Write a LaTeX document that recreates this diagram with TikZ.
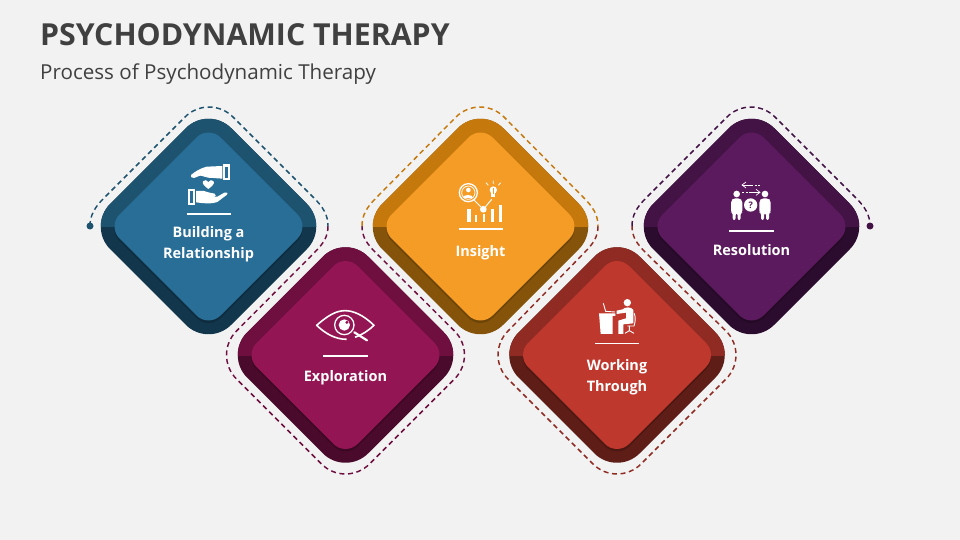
\documentclass[tikz,border=0pt]{standalone}
\usepackage{fontspec}
\setmainfont{Open Sans}
\definecolor{bgc}{HTML}{F2F2F2}
\definecolor{ink}{HTML}{404040}
\definecolor{bluM}{HTML}{286E97}\definecolor{bluT}{HTML}{1E5370}\definecolor{bluB}{HTML}{12364B}
\definecolor{magM}{HTML}{931554}\definecolor{magT}{HTML}{6F0F40}\definecolor{magB}{HTML}{4A0A2B}
\definecolor{oraM}{HTML}{F59C27}\definecolor{oraT}{HTML}{C5780B}\definecolor{oraB}{HTML}{85540A}
\definecolor{redM}{HTML}{BE382D}\definecolor{redT}{HTML}{8F2B22}\definecolor{redB}{HTML}{5E1D17}
\definecolor{purM}{HTML}{5B1A5D}\definecolor{purT}{HTML}{431345}\definecolor{purB}{HTML}{2C0C2E}
\tikzset{
  wave/.style={line width=1.45pt,dash pattern=on 5pt off 3.6pt},
  lbl/.style={text=white,font=\bfseries\fontsize{14.5}{21}\selectfont,align=center,inner sep=0pt,anchor=center},
  rulebar/.style={draw=white,line width=1.6pt},
  ico/.style={fill=white,draw=none},
  icl/.style={draw=white,fill=none},
  enddot/.style={circle,inner sep=0pt,minimum size=7pt}
}
\newcommand{\rdiam}[1]{(-#1,0)--(0,-#1)--(#1,0)--(0,#1)--cycle}
\newcommand{\card}[5]{%
 \begin{scope}[shift={(#1,#2)}]
  \fill[#5,rounded corners=32pt] \rdiam{121};
  \begin{scope}
   \clip (-130,-130) rectangle (130,0);
   \fill[#4,rounded corners=32pt] \rdiam{121};
  \end{scope}
  \fill[black,opacity=.18,rounded corners=17pt,shift={(0,2.5)}] \rdiam{101};
  \fill[#3,rounded corners=17pt] \rdiam{101};
 \end{scope}}
% rounded apex of the dashed lines: apex (x,y), directions towards the incoming and the outgoing point
\newcommand{\crn}[6]{-- (#1+24*#3,#2+24*#4) .. controls (#1+10.7*#3,#2+10.7*#4) and (#1+10.7*#5,#2+10.7*#6) .. (#1+24*#5,#2+24*#6)}
\begin{document}
\begin{tikzpicture}[x=1pt,y=-1pt]
\useasboundingbox (0,0) rectangle (960,540);
\fill[bgc] (0,0) rectangle (960,540);
\node[anchor=base west,inner sep=0pt,text=ink] (title) at (40,45.5) {\fontsize{30.3}{36}\selectfont\bfseries PSYCHODYNAMIC THERAPY};
\node[anchor=base west,inner sep=0pt,text=ink] (sub) at (40,80) {\fontsize{20.6}{26}\selectfont Process of Psychodynamic Therapy};

% dashed waves
\coordinate (w0) at (90,226);\coordinate (w1) at (328,226);\coordinate (w2) at (362,226);
\coordinate (w3) at (598,226);\coordinate (w4) at (632,226);\coordinate (w5) at (870,226);
\draw[wave,bluT] (w0) .. controls (90,215) and (95,207) .. (104,198) \crn{209}{93}{-1}{1}{1}{1} -- (314,198) .. controls (323,207) and (328,215) .. (w1);
\draw[wave,magT] (w1) .. controls (328,237) and (323,244) .. (314,253) \crn{212.5}{355}{1}{-1}{1}{1} \crn{345.5}{488}{-1}{-1}{1}{-1} \crn{478.5}{355}{-1}{1}{-1}{-1} -- (376,253) .. controls (367,244) and (362,237) .. (w2);
\draw[wave,oraT] (w2) .. controls (362,215) and (367,207) .. (376,198) \crn{480}{93}{-1}{1}{1}{1} -- (584,198) .. controls (593,207) and (598,215) .. (w3);
\draw[wave,redT] (w3) .. controls (598,237) and (593,244) .. (584,253) \crn{484}{355}{1}{-1}{1}{1} \crn{617}{488}{-1}{-1}{1}{-1} \crn{750}{355}{-1}{1}{-1}{-1} -- (646,253) .. controls (637,244) and (632,237) .. (w4);
\draw[wave,purT] (w4) .. controls (632,215) and (637,207) .. (646,198) \crn{751}{93}{-1}{1}{1}{1} -- (856,198) .. controls (865,207) and (870,215) .. (w5);
\node[enddot,fill=bluT] (d0) at (w0) {};
\node[enddot,fill=purT] (d5) at (w5) {};

% cards
\card{208.5}{226.5}{bluM}{bluT}{bluB}
\card{345.5}{355}{magM}{magT}{magB}
\card{480.5}{226.5}{oraM}{oraT}{oraB}
\card{617}{355}{redM}{redT}{redB}
\card{751.5}{226.5}{purM}{purT}{purB}

% rules
\draw[rulebar] (186.7,213.7) -- (230.7,213.7);
\draw[rulebar] (323.3,355.7) -- (367.7,355.7);
\draw[rulebar] (458.5,229) -- (502.5,229);
\draw[rulebar] (594.8,343.5) -- (639,343.5);
\draw[rulebar] (729.3,230.7) -- (773.5,230.7);

% labels
\node[lbl] (a) at (208.5,244) {Building a\\Relationship};
\node[lbl] (b) at (345.5,378) {Exploration};
\node[lbl] (c) at (480.5,253) {Insight};
\node[lbl] (e) at (617,377) {Working\\Through};
\node[lbl] (f) at (751.5,250) {Resolution};

% icon: hands and heart
\begin{scope}[shift={(180,155)},x=.3333pt,y=-.3333pt]
 \fill[ico] (33,60) .. controls (45,50) and (60,40) .. (80,35) -- (127,33) -- (127,71) -- (100,69) .. controls (80,70) and (70,62) .. (60,62) -- (42,69) .. controls (35,69) and (30,65) .. (33,60) -- cycle;
 \fill[ico] (130,28) rectangle (150,75);
 \fill[bluM] (136,35) rectangle (143,68);
 \fill[ico] (85,102) .. controls (75,94) and (65,87) .. (69,79) .. controls (73,73) and (82,75) .. (85,81) .. controls (88,75) and (97,73) .. (101,79) .. controls (105,87) and (95,94) .. (85,102) -- cycle;
 \fill[ico] (48,108) -- (72,108) .. controls (82,112) and (90,113) .. (104,116) .. controls (110,120) and (108,125) .. (100,125) -- (112,125) -- (133,113) .. controls (140,110) and (146,114) .. (140,120) -- (112,141) .. controls (95,148) and (70,145) .. (48,142) -- cycle;
 \fill[ico] (25,102) rectangle (45,150);
 \fill[bluM] (31,109) rectangle (38,143);
\end{scope}

% icon: eye and magnifier
\begin{scope}[shift={(225,240)},x=.3333pt,y=-.3333pt]
 \draw[icl,line width=1.6pt,line join=round] (390,292) .. controls (412,284) and (430,272) .. (447,256) .. controls (415,225) and (385,212) .. (360,212) .. controls (335,212) and (310,225) .. (275,256) .. controls (300,280) and (330,298) .. (365,298);
 \draw[icl,line width=1.3pt] (358,255) circle (29);
 \fill[ico] (358,255) circle (17);
 \fill[magM] (366,247) circle (5);
 \draw[icl,line width=2.2pt,line cap=round] (388,277) -- (426,301);
\end{scope}

% icon: insight
\begin{scope}[shift={(440,170)},x=.3333pt,y=-.3333pt]
 \draw[icl,line width=1.3pt] (85,68) circle (27);
 \draw[icl,line width=.8pt] (85,68) circle (20);
 \fill[ico] (85,60) circle (7);
 \fill[ico] (70,84) .. controls (70,72) and (100,72) .. (100,84) -- cycle;
 \fill[ico] (82,118) rectangle (92,156);
 \fill[ico] (104,134) rectangle (111,156);
 \fill[ico] (129,132) rectangle (136,156);
 \fill[ico] (154,116) rectangle (161,156);
 \fill[ico] (178,104) rectangle (185,156);
 \fill[ico] (130,118) circle (10);
 \draw[icl,line width=1pt] (100,88) -- (130,118) -- (155,88);
 \fill[ico] (160,60) circle (11);
 \fill[ico] (154,68) rectangle (166,80);
 \fill[oraM] (158,55) rectangle (162,72);
 \draw[icl,line width=.8pt] (160,32) -- (160,42) (138,38) -- (145,46) (182,38) -- (175,46);
\end{scope}

% icon: person at desk
\begin{scope}[shift={(590,290)},x=.3333pt,y=-.3333pt]
 \draw[icl,line width=.9pt] (40,40) -- (47,64) -- (75,66);
 \fill[ico] (27,70) -- (76,70) -- (76,78) -- (68,78) -- (68,132) -- (32,132) -- cycle;
 \fill[ico] (112,38) circle (11);
 \fill[ico] (80,62) -- (98,58) .. controls (105,50) and (125,50) .. (130,60) -- (130,100) -- (100,103) -- (100,132) -- (85,132) -- (85,92) -- (108,85) -- (108,68) -- (80,72) -- cycle;
 \draw[icl,line width=.9pt] (133,70) .. controls (138,85) and (135,100) .. (132,108) -- (112,108);
 \draw[icl,line width=.9pt] (118,108) -- (118,122) (105,130) -- (118,122) -- (132,130);
\end{scope}

% icon: two persons and question
\begin{scope}[shift={(720,170)},x=.3333pt,y=-.3333pt]
 \fill[ico] (50,72) circle (10);
 \fill[ico] (135,72) circle (10);
 \fill[ico,rounded corners=2pt] (33,128) -- (33,92) -- (40,85) -- (60,85) -- (67,92) -- (67,128) -- (62,128) -- (62,150) -- (53,150) -- (53,130) -- (47,130) -- (47,150) -- (38,150) -- (38,128) -- cycle;
 \fill[ico,rounded corners=2pt] (118,128) -- (118,92) -- (125,85) -- (145,85) -- (152,92) -- (152,128) -- (147,128) -- (147,150) -- (138,150) -- (138,130) -- (132,130) -- (132,150) -- (123,150) -- (123,128) -- cycle;
 \fill[ico] (92,105) circle (20);
 \node[inner sep=0pt,text=purM] (q) at (92,105) {\fontsize{9}{9}\selectfont\bfseries ?};
 \draw[icl,line width=.7pt] (66,45) -- (98,45) (104,45) -- (110,45) (114,45) -- (120,45);
 \draw[icl,line width=.7pt] (78,36) -- (66,45) -- (78,54);
 \draw[icl,line width=.7pt] (66,67) -- (72,67) (77,67) -- (83,67) (88,67) -- (120,67);
 \draw[icl,line width=.7pt] (108,58) -- (120,67) -- (108,76);
\end{scope}
\end{tikzpicture}
\end{document}
